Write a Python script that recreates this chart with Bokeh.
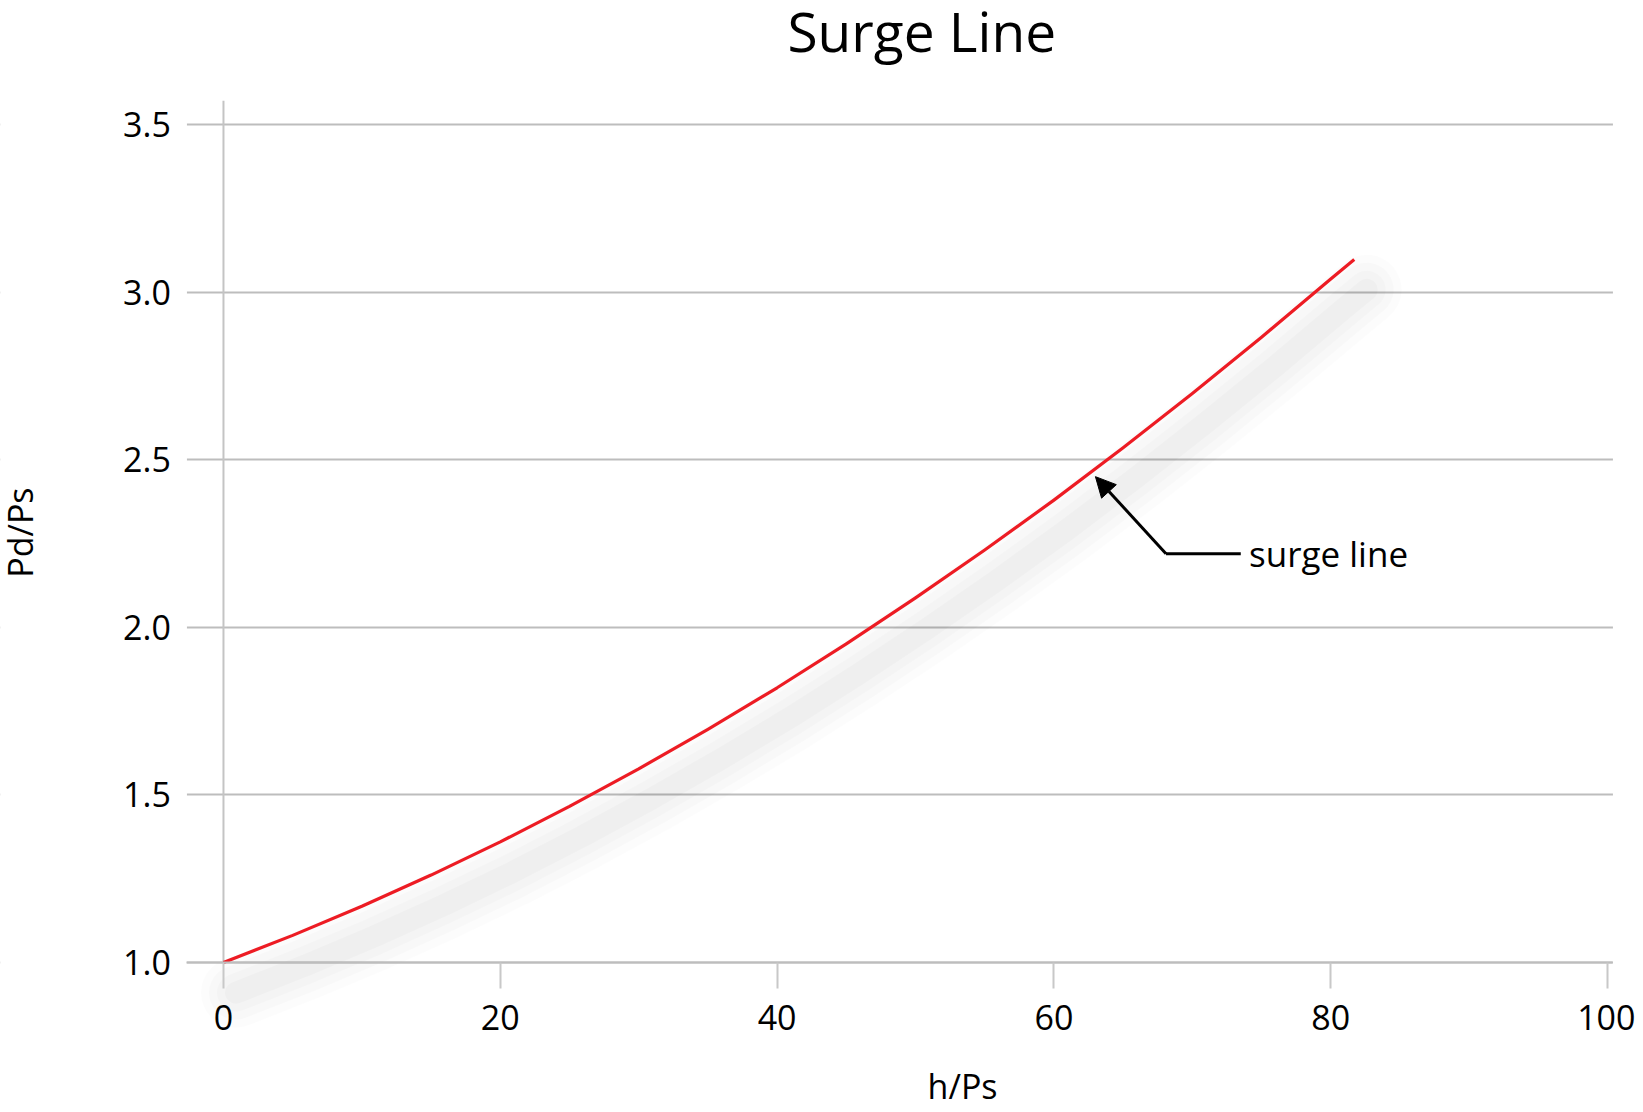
import numpy as np
from bokeh.plotting import figure
from bokeh.models import (Range1d, FixedTicker, Label, Arrow, NormalHead,
                          BoxAnnotation, NumeralTickFormatter)
from bokeh.embed import file_html
from bokeh.resources import INLINE

# ---------------- data ----------------
title_text = "Surge Line"
x_label = "h/Ps"
y_label = "Pd/Ps"
x_ticks = [0, 20, 40, 60, 80, 100]
y_ticks = [1.0, 1.5, 2.0, 2.5, 3.0, 3.5]

h_ps = [0, 5, 10, 15, 20, 25, 30, 35, 40, 45, 50, 55, 60, 65, 70, 75, 80, 81.7]
pd_ps = [1.0, 1.081, 1.168, 1.261, 1.36, 1.466, 1.578, 1.696, 1.82, 1.951, 2.088,
         2.231, 2.38, 2.536, 2.698, 2.866, 3.04, 3.098]

annotation_text = "surge line"
arrow_tip_x, arrow_tip_y = 63.0, 2.45
elbow_x, elbow_y = 68.1, 2.22
leader_end_x = 73.5

# ---------------- layout / styling ----------------
FONT = "Open Sans"
GRID = "#bdbdbd"
TICK = "#c8c8c8"
RED = "#ed1c24"
GRID_LEFT, GRID_RIGHT = -2.64, 100.39   # horizontal extent of the grid area
Y_AXIS_TOP = 3.572                      # where the drawn vertical axis line stops
TITLE_X, TITLE_Y = 50.45, 3.780         # chart title (centre, middle)
XLAB_X, XLAB_Y = 53.4, 0.632            # x axis title (centre, middle)
YLAB_X, YLAB_Y = -14.67, 2.283          # y axis title (centre, middle)

p = figure(width=1635, height=1104, output_backend="svg", toolbar_location=None,
           x_range=Range1d(-16.11, 102.02), y_range=Range1d(0.5763, 3.871),
           min_border_left=0, min_border_right=0, min_border_top=0,
           min_border_bottom=0)
p.outline_line_color = None
p.background_fill_color = "white"
p.border_fill_color = "white"
p.title.text = ""
p.title.standoff = 0

# grid
p.xgrid.visible = False
p.ygrid.ticker = FixedTicker(ticks=y_ticks)
p.ygrid.grid_line_color = GRID
p.ygrid.grid_line_width = 2

# white masks so that the grid lines only span the grid area
for kw in (dict(right=GRID_LEFT), dict(left=GRID_RIGHT)):
    p.add_layout(BoxAnnotation(fill_color="white", fill_alpha=1.0, line_color=None,
                               level="underlay", **kw))

# x axis (ticks and numbers) sits on Pd/Ps = 1.0
xa = p.xaxis[0]
xa.fixed_location = y_ticks[0]
xa.bounds = (GRID_LEFT, GRID_RIGHT)
xa.ticker = FixedTicker(ticks=x_ticks)
xa.axis_line_color = GRID
xa.axis_line_width = 2
xa.major_tick_line_color = TICK
xa.major_tick_line_width = 2
xa.major_tick_out = 26
xa.major_tick_in = 0
xa.minor_tick_line_color = None
xa.major_label_standoff = 16
xa.major_label_text_font = FONT
xa.major_label_text_font_size = "34px"
xa.major_label_text_color = "black"

# y axis numbers sit left of the grid area
ya = p.yaxis[0]
ya.fixed_location = GRID_LEFT
ya.ticker = FixedTicker(ticks=y_ticks)
ya.formatter = NumeralTickFormatter(format="0.0")
ya.axis_line_color = None
ya.major_tick_line_color = None
ya.minor_tick_line_color = None
ya.major_tick_out = 0
ya.major_tick_in = 0
ya.major_label_standoff = 16
ya.major_label_text_font = FONT
ya.major_label_text_font_size = "34px"
ya.major_label_text_color = "black"

# vertical axis line at x = 0
p.segment(x0=[0], y0=[y_ticks[0]], x1=[0], y1=[Y_AXIS_TOP],
          line_color="#c4c4c4", line_width=2)

# soft shadow below the curve
hx = np.array(h_ps, dtype=float)
py = np.array(pd_ps, dtype=float)
for w, a in [(70, 0.012), (54, 0.014), (38, 0.016), (22, 0.018)]:
    p.line(hx + 0.9, py - 0.09, line_color="black", line_alpha=a, line_width=w,
           line_cap="round", line_join="round")

# surge line
p.line(h_ps, pd_ps, line_color=RED, line_width=3.2, line_join="round")

# annotation
p.segment(x0=[elbow_x], y0=[elbow_y], x1=[leader_end_x], y1=[elbow_y],
          line_color="black", line_width=3)
p.add_layout(Arrow(end=NormalHead(size=20, fill_color="black", line_color="black"),
                   x_start=elbow_x, y_start=elbow_y, x_end=arrow_tip_x, y_end=arrow_tip_y,
                   line_color="black", line_width=3))
p.add_layout(Label(x=leader_end_x + 0.6, y=elbow_y, text=annotation_text,
                   text_font=FONT, text_font_size="35px", text_color="black",
                   text_align="left", text_baseline="middle"))

# chart title and axis titles
p.add_layout(Label(x=TITLE_X, y=TITLE_Y, text=title_text, text_font=FONT,
                   text_font_size="55px", text_color="black",
                   text_align="center", text_baseline="middle"))
p.add_layout(Label(x=XLAB_X, y=XLAB_Y, text=x_label, text_font=FONT,
                   text_font_size="34px", text_color="black",
                   text_align="center", text_baseline="middle"))
p.add_layout(Label(x=YLAB_X, y=YLAB_Y, text=y_label, text_font=FONT,
                   text_font_size="34px", text_color="black", angle=np.pi / 2,
                   text_align="center", text_baseline="middle"))

open("out.html", "w").write(file_html(p, INLINE))
